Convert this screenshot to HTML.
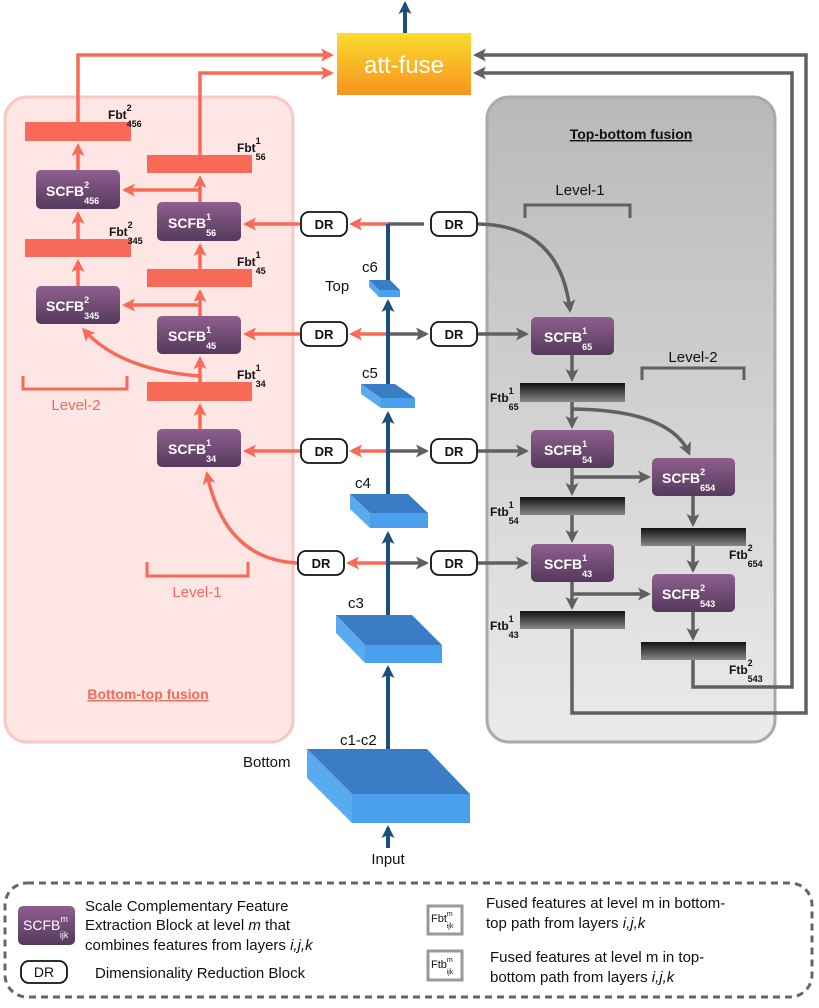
<!DOCTYPE html>
<html><head><meta charset="utf-8"><style>
body{margin:0;background:#fff}
svg text{font-family:"Liberation Sans",sans-serif}
</style></head><body>
<svg width="819" height="1003" viewBox="0 0 819 1003" xmlns="http://www.w3.org/2000/svg">
<defs>
<linearGradient id="att" x1="0" y1="0" x2="0" y2="1"><stop offset="0" stop-color="#fbdc2c"/><stop offset="1" stop-color="#f7921e"/></linearGradient>
<linearGradient id="gp" x1="0" y1="0" x2="0" y2="1"><stop offset="0" stop-color="#b9b9b9"/><stop offset="1" stop-color="#ebebeb"/></linearGradient>
<linearGradient id="pu" x1="0" y1="0" x2="0" y2="1"><stop offset="0" stop-color="#8e5f8f"/><stop offset="1" stop-color="#553a5c"/></linearGradient>
<linearGradient id="bk" x1="0" y1="0" x2="0" y2="1"><stop offset="0" stop-color="#111"/><stop offset="1" stop-color="#888"/></linearGradient>
<marker id="ar" markerWidth="13" markerHeight="13" refX="10" refY="6.5" orient="auto" markerUnits="userSpaceOnUse" viewBox="0 0 13 13"><path d="M0,0 L13,6.5 L0,13 L3,6.5 z" fill="#f86a58"/></marker>
<marker id="ag" markerWidth="13" markerHeight="13" refX="10" refY="6.5" orient="auto" markerUnits="userSpaceOnUse" viewBox="0 0 13 13"><path d="M0,0 L13,6.5 L0,13 L3,6.5 z" fill="#606060"/></marker>
<marker id="ab" markerWidth="13" markerHeight="13" refX="10" refY="6.5" orient="auto" markerUnits="userSpaceOnUse" viewBox="0 0 13 13"><path d="M0,0 L13,6.5 L0,13 L3,6.5 z" fill="#1d4f7c"/></marker>
</defs>

<rect x="5" y="97" width="288" height="645" rx="22" fill="#fde6e3" stroke="#f8c9c2" stroke-width="3"/>
<rect x="487" y="97" width="288" height="645" rx="22" fill="url(#gp)" stroke="#aaa" stroke-width="3"/>
<text x="631" y="139" font-size="14" font-weight="bold" text-anchor="middle" text-decoration="underline" fill="#111">Top-bottom fusion</text>
<text x="148" y="699" font-size="14" font-weight="bold" text-anchor="middle" text-decoration="underline" fill="#f26a5a">Bottom-top fusion</text>

<rect x="337" y="33" width="134" height="62" fill="url(#att)"/>
<text x="404" y="73" font-size="24" fill="#fff" text-anchor="middle">att-fuse</text>
<line x1="405" y1="33" x2="405" y2="4" stroke="#1d4f7c" stroke-width="4" marker-end="url(#ab)"/>

<g fill="none" stroke="#f86a58" stroke-width="3.5">
<polyline points="78,122 78,55 331,55" marker-end="url(#ar)"/>
<polyline points="200,155 200,73 331,73" marker-end="url(#ar)"/>
<line x1="78" y1="170" x2="78" y2="146" marker-end="url(#ar)"/>
<line x1="78" y1="239" x2="78" y2="214" marker-end="url(#ar)"/>
<line x1="78" y1="286" x2="78" y2="262" marker-end="url(#ar)"/>
<line x1="200" y1="202" x2="200" y2="178" marker-end="url(#ar)"/>
<line x1="200" y1="269" x2="200" y2="246" marker-end="url(#ar)"/>
<line x1="200" y1="316" x2="200" y2="292" marker-end="url(#ar)"/>
<line x1="200" y1="382" x2="200" y2="359" marker-end="url(#ar)"/>
<line x1="200" y1="429" x2="200" y2="406" marker-end="url(#ar)"/>
<line x1="200" y1="190" x2="125" y2="190" marker-end="url(#ar)"/>
<line x1="200" y1="305" x2="125" y2="305" marker-end="url(#ar)"/>
<path d="M200,376 Q120,370 84,330" marker-end="url(#ar)"/>
<path d="M298,563 Q225,560 207,474" marker-end="url(#ar)"/>
<line x1="300" y1="224" x2="246" y2="224" marker-end="url(#ar)"/>
<line x1="300" y1="334" x2="246" y2="334" marker-end="url(#ar)"/>
<line x1="300" y1="451" x2="246" y2="451" marker-end="url(#ar)"/>
<line x1="388" y1="224" x2="352" y2="224" marker-end="url(#ar)"/>
<line x1="388" y1="334" x2="352" y2="334" marker-end="url(#ar)"/>
<line x1="388" y1="451" x2="352" y2="451" marker-end="url(#ar)"/>
<line x1="388" y1="563" x2="349" y2="563" marker-end="url(#ar)"/>
</g>

<g fill="#f86a58">
<rect x="25" y="122" width="106" height="19"/>
<rect x="147" y="155" width="105" height="18"/>
<rect x="25" y="239" width="106" height="18"/>
<rect x="147" y="269" width="105" height="18"/>
<rect x="147" y="382" width="105" height="19"/>
</g>
<g font-size="12" font-weight="bold" fill="#111">
<text x="108" y="119">Fbt<tspan dy="-8" font-size="9">2</tspan><tspan dx="-5" dy="16" font-size="9">456</tspan></text>
<text x="237" y="152">Fbt<tspan dy="-8" font-size="9">1</tspan><tspan dx="-5" dy="16" font-size="9">56</tspan></text>
<text x="109" y="236">Fbt<tspan dy="-8" font-size="9">2</tspan><tspan dx="-5" dy="16" font-size="9">345</tspan></text>
<text x="237" y="266">Fbt<tspan dy="-8" font-size="9">1</tspan><tspan dx="-5" dy="16" font-size="9">45</tspan></text>
<text x="237" y="379">Fbt<tspan dy="-8" font-size="9">1</tspan><tspan dx="-5" dy="16" font-size="9">34</tspan></text>
</g>

<g fill="none" stroke="#f86a58" stroke-width="3">
<polyline points="23,376 23,389 127,389 127,376"/>
<polyline points="147,562 147,576 248,576 248,562"/>
</g>
<text x="76" y="410" font-size="15" fill="#f26a5a" text-anchor="middle">Level-2</text>
<text x="197" y="597" font-size="15" fill="#f26a5a" text-anchor="middle">Level-1</text>

<g fill="none" stroke="#606060" stroke-width="3.5">
<line x1="388" y1="224" x2="424" y2="224"/>
<line x1="388" y1="334" x2="426" y2="334" marker-end="url(#ag)"/>
<line x1="388" y1="451" x2="426" y2="451" marker-end="url(#ag)"/>
<line x1="388" y1="563" x2="426" y2="563" marker-end="url(#ag)"/>
<path d="M478,224 Q560,225 570,310" marker-end="url(#ag)"/>
<line x1="478" y1="334" x2="526" y2="334" marker-end="url(#ag)"/>
<line x1="478" y1="451" x2="526" y2="451" marker-end="url(#ag)"/>
<line x1="478" y1="563" x2="526" y2="563" marker-end="url(#ag)"/>
<line x1="572" y1="355" x2="572" y2="379" marker-end="url(#ag)"/>
<line x1="572" y1="402" x2="572" y2="426" marker-end="url(#ag)"/>
<line x1="572" y1="468" x2="572" y2="493" marker-end="url(#ag)"/>
<line x1="572" y1="515" x2="572" y2="540" marker-end="url(#ag)"/>
<line x1="572" y1="582" x2="572" y2="607" marker-end="url(#ag)"/>
<path d="M572,409 Q670,410 689,453" marker-end="url(#ag)"/>
<line x1="572" y1="477" x2="648" y2="477" marker-end="url(#ag)"/>
<line x1="572" y1="594" x2="648" y2="594" marker-end="url(#ag)"/>
<line x1="693" y1="496" x2="693" y2="524" marker-end="url(#ag)"/>
<line x1="693" y1="546" x2="693" y2="570" marker-end="url(#ag)"/>
<line x1="693" y1="612" x2="693" y2="638" marker-end="url(#ag)"/>
<polyline points="693,660 693,687 792,687 792,73 476,73" marker-end="url(#ag)"/>
<polyline points="572,629 572,713 806,713 806,55 476,55" marker-end="url(#ag)"/>
</g>

<g fill="url(#bk)">
<rect x="520" y="383" width="105" height="19"/>
<rect x="520" y="497" width="105" height="18"/>
<rect x="520" y="611" width="105" height="18"/>
<rect x="641" y="528" width="105" height="18"/>
<rect x="641" y="642" width="105" height="18"/>
</g>
<g font-size="12" font-weight="bold" fill="#111">
<text x="490" y="402">Ftb<tspan dy="-8" font-size="9">1</tspan><tspan dx="-5" dy="16" font-size="9">65</tspan></text>
<text x="490" y="516">Ftb<tspan dy="-8" font-size="9">1</tspan><tspan dx="-5" dy="16" font-size="9">54</tspan></text>
<text x="490" y="630">Ftb<tspan dy="-8" font-size="9">1</tspan><tspan dx="-5" dy="16" font-size="9">43</tspan></text>
<text x="729" y="559">Ftb<tspan dy="-8" font-size="9">2</tspan><tspan dx="-5" dy="16" font-size="9">654</tspan></text>
<text x="729" y="674">Ftb<tspan dy="-8" font-size="9">2</tspan><tspan dx="-5" dy="16" font-size="9">543</tspan></text>
</g>
<g fill="none" stroke="#606060" stroke-width="3">
<polyline points="525,218 525,205 630,205 630,218"/>
<polyline points="642,380 642,368 744,368 744,380"/>
</g>
<text x="580" y="195" font-size="15" fill="#111" text-anchor="middle">Level-1</text>
<text x="693" y="362" font-size="15" fill="#111" text-anchor="middle">Level-2</text>

<g>
<rect x="36" y="170" width="84" height="39" rx="5" fill="url(#pu)"/>
<rect x="157" y="202" width="84" height="39" rx="5" fill="url(#pu)"/>
<rect x="36" y="286" width="84" height="38" rx="5" fill="url(#pu)"/>
<rect x="157" y="316" width="84" height="38" rx="5" fill="url(#pu)"/>
<rect x="157" y="429" width="84" height="38" rx="5" fill="url(#pu)"/>
<rect x="531" y="317" width="83" height="38" rx="5" fill="url(#pu)"/>
<rect x="531" y="430" width="83" height="38" rx="5" fill="url(#pu)"/>
<rect x="531" y="544" width="83" height="38" rx="5" fill="url(#pu)"/>
<rect x="652" y="458" width="83" height="38" rx="5" fill="url(#pu)"/>
<rect x="652" y="574" width="83" height="38" rx="5" fill="url(#pu)"/>
</g>
<g font-size="14" font-weight="bold" fill="#fff">
<text x="46" y="196">SCFB<tspan dy="-8" font-size="9">2</tspan><tspan dx="-5" dy="16" font-size="9">456</tspan></text>
<text x="168" y="228">SCFB<tspan dy="-8" font-size="9">1</tspan><tspan dx="-5" dy="16" font-size="9">56</tspan></text>
<text x="46" y="311">SCFB<tspan dy="-8" font-size="9">2</tspan><tspan dx="-5" dy="16" font-size="9">345</tspan></text>
<text x="168" y="341">SCFB<tspan dy="-8" font-size="9">1</tspan><tspan dx="-5" dy="16" font-size="9">45</tspan></text>
<text x="168" y="454">SCFB<tspan dy="-8" font-size="9">1</tspan><tspan dx="-5" dy="16" font-size="9">34</tspan></text>
<text x="544" y="342">SCFB<tspan dy="-8" font-size="9">1</tspan><tspan dx="-5" dy="16" font-size="9">65</tspan></text>
<text x="544" y="455">SCFB<tspan dy="-8" font-size="9">1</tspan><tspan dx="-5" dy="16" font-size="9">54</tspan></text>
<text x="544" y="569">SCFB<tspan dy="-8" font-size="9">1</tspan><tspan dx="-5" dy="16" font-size="9">43</tspan></text>
<text x="662" y="483">SCFB<tspan dy="-8" font-size="9">2</tspan><tspan dx="-5" dy="16" font-size="9">654</tspan></text>
<text x="662" y="599">SCFB<tspan dy="-8" font-size="9">2</tspan><tspan dx="-5" dy="16" font-size="9">543</tspan></text>
</g>

<g fill="#fff" stroke="#111" stroke-width="1.8">
<rect x="301" y="212" width="46" height="24" rx="8"/>
<rect x="301" y="322" width="46" height="24" rx="8"/>
<rect x="301" y="439" width="46" height="24" rx="8"/>
<rect x="298" y="551" width="46" height="24" rx="8"/>
<rect x="431" y="212" width="46" height="24" rx="8"/>
<rect x="431" y="322" width="46" height="24" rx="8"/>
<rect x="431" y="439" width="46" height="24" rx="8"/>
<rect x="431" y="551" width="46" height="24" rx="8"/>
</g>
<g font-size="13" font-weight="bold" fill="#111" text-anchor="middle">
<text x="324" y="229">DR</text><text x="324" y="339">DR</text><text x="324" y="456">DR</text><text x="321" y="568">DR</text>
<text x="454" y="229">DR</text><text x="454" y="339">DR</text><text x="454" y="456">DR</text><text x="454" y="568">DR</text>
</g>

<g stroke="#1d4f7c" stroke-width="4" fill="none">
<line x1="388" y1="282" x2="388" y2="224"/>
<line x1="388" y1="384" x2="388" y2="302" marker-end="url(#ab)"/>
<line x1="388" y1="494" x2="388" y2="414" marker-end="url(#ab)"/>
<line x1="388" y1="615" x2="388" y2="534" marker-end="url(#ab)"/>
<line x1="388" y1="749" x2="388" y2="668" marker-end="url(#ab)"/>
<line x1="388" y1="848" x2="388" y2="828" marker-end="url(#ab)"/>
</g>
<g>
<polygon points="369,280 390,280 400,290 379,290" fill="#3a7dc4"/><polygon points="369,280 379,290 379,297 369,287" fill="#5aaaf0"/><rect x="379" y="290" width="21" height="7" fill="#4aa0ec"/>
<polygon points="361,384 395,384 415,398 381,398" fill="#3a7dc4"/><polygon points="361,384 381,398 381,408 361,394" fill="#5aaaf0"/><rect x="381" y="398" width="34" height="10" fill="#4aa0ec"/>
<polygon points="350,494 408,494 428,513 370,513" fill="#3a7dc4"/><polygon points="350,494 370,513 370,528 350,509" fill="#5aaaf0"/><rect x="370" y="513" width="58" height="15" fill="#4aa0ec"/>
<polygon points="336,615 412,615 442,645 365,645" fill="#3a7dc4"/><polygon points="336,615 365,645 365,663 336,633" fill="#5aaaf0"/><rect x="365" y="645" width="77" height="18" fill="#4aa0ec"/>
<polygon points="307,749 427,749 470,794 352,794" fill="#3a7dc4"/><polygon points="307,749 352,794 352,823 307,778" fill="#5aaaf0"/><rect x="352" y="794" width="118" height="29" fill="#4aa0ec"/>
</g>
<g font-size="15" fill="#111">
<text x="325" y="291">Top</text>
<text x="362" y="272">c6</text>
<text x="362" y="378">c5</text>
<text x="355" y="488">c4</text>
<text x="348" y="608">c3</text>
<text x="340" y="745">c1-c2</text>
<text x="243" y="767">Bottom</text>
<text x="388" y="864" text-anchor="middle">Input</text>
</g>

<rect x="5" y="883" width="807" height="114" rx="22" fill="none" stroke="#666" stroke-width="3" stroke-dasharray="7,5"/>
<rect x="18" y="906" width="57" height="39" rx="5" fill="url(#pu)"/>
<text x="23" y="930" font-size="14" fill="#fff">SCFB<tspan dy="-8" font-size="9">m</tspan><tspan dx="-8" dy="16" font-size="9">ijk</tspan></text>
<g font-size="15" fill="#111">
<text x="85" y="911">Scale Complementary Feature</text>
<text x="85" y="930">Extraction Block at level <tspan font-style="italic">m</tspan> that</text>
<text x="85" y="950">combines features from layers <tspan font-style="italic">i,j,k</tspan></text>
<text x="95" y="978">Dimensionality Reduction Block</text>
<text x="486" y="908">Fused features at level m in bottom-</text>
<text x="486" y="928">top path from layers <tspan font-style="italic">i,j,k</tspan></text>
<text x="490" y="962">Fused features at level m in top-</text>
<text x="490" y="982">bottom path from layers <tspan font-style="italic">i,j,k</tspan></text>
</g>
<rect x="21" y="961" width="46" height="22" rx="8" fill="#fff" stroke="#111" stroke-width="1.8"/>
<text x="44" y="977" font-size="14" fill="#111" text-anchor="middle">DR</text>
<rect x="428" y="906" width="34" height="28" fill="#fff" stroke="#999" stroke-width="3"/>
<text x="431" y="922" font-size="11" fill="#111">Fbt<tspan dy="-6" font-size="7">m</tspan><tspan dx="-6" dy="12" font-size="7">ijk</tspan></text>
<rect x="428" y="951" width="34" height="29" fill="#fff" stroke="#999" stroke-width="3"/>
<text x="431" y="968" font-size="11" fill="#111">Ftb<tspan dy="-6" font-size="7">m</tspan><tspan dx="-6" dy="12" font-size="7">ijk</tspan></text>
</svg>
</body></html>
